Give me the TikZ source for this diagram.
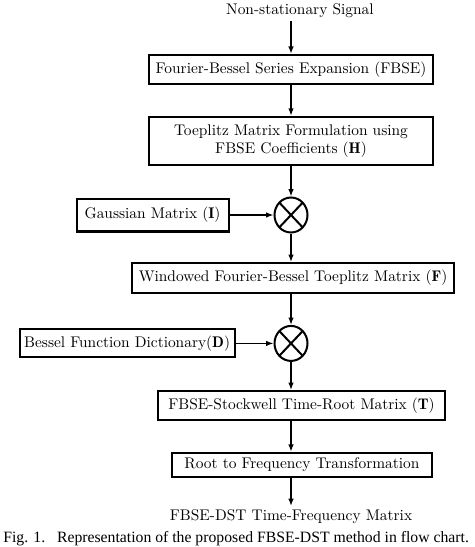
\documentclass[tikz,border=0pt]{standalone}
\usepackage{fontspec}
\newfontfamily\capfont{Liberation Serif}
\usetikzlibrary{matrix,positioning,arrows.meta,shapes.geometric}

\begin{document}
\begin{tikzpicture}[x=0.6486pt, y=-0.6486pt,
every node/.style={inner sep=2pt},
blk/.style={draw, line width=1.3pt, minimum height=18.8pt},
mixer/.style={ellipse, draw, line width=1.3pt, minimum width=21.4pt, minimum height=22.7pt, inner sep=0pt,
    path picture={\draw[line width=1.3pt]
        (path picture bounding box.north west) -- (path picture bounding box.south east)
        (path picture bounding box.north east) -- (path picture bounding box.south west);}},
arr/.style={-{Latex[length=4.8pt,width=3.6pt]}, line width=0.9pt}
]
\useasboundingbox (0,0) rectangle (474,547);

\matrix (c) [matrix of nodes, nodes in empty cells, row sep=20pt, ampersand replacement=\&, anchor=c-4-1.center] at (291,215) {
|[xshift=5.8pt]| Non-stationary Signal \\[1.5pt]
|[blk, minimum width=183.6pt]| Fourier-Bessel Series Expansion (FBSE) \\
|[blk, minimum width=183.6pt, minimum height=31.1pt]| \begin{tabular}{@{}c@{}}Toeplitz Matrix Formulation using\\ FBSE Coefficients ($\mathbf{H}$)\end{tabular} \\
|[mixer]| \\[-1.5pt]
|[blk, minimum width=208.9pt, minimum height=19.5pt, xshift=1.3pt]| Windowed Fourier-Bessel Toeplitz Matrix ($\mathbf{F}$) \\
|[mixer]| \\[-1.8pt]
|[blk, minimum width=186.1pt, xshift=6.8pt]| FBSE-Stockwell Time-Root Matrix ($\mathbf{T}$) \\
|[blk, minimum width=168.6pt, minimum height=15.6pt, xshift=7.1pt]| Root to Frequency Transformation \\[-1.5pt]
FBSE-DST Time-Frequency Matrix \\
};

\node[blk, minimum width=98.6pt, minimum height=21.4pt, left=28.5pt of c-4-1] (gauss) {Gaussian Matrix ($\mathbf{I}$)};
\node[blk, minimum width=139.4pt, minimum height=18.2pt, left=24.6pt of c-6-1] (dict) {Bessel Function Dictionary($\mathbf{D}$)};

\foreach \i/\j in {1-1/2-1, 2-1/3-1, 3-1/4-1, 4-1/5-1,
                   5-1/6-1, 6-1/7-1, 7-1/8-1, 8-1/9-1}
    \draw [arr] (c-\i.south -| c-4-1) -- (c-\j.north -| c-4-1);
\draw [arr] (gauss) -- (c-4-1);
\draw [arr] (dict) -- (c-6-1);

\node[anchor=base west, inner sep=0pt, font=\capfont\fontsize{10.2}{12}\selectfont] (caption) at (3,542.5)
    {Fig. 1.\enspace\ Representation of the proposed FBSE-DST method in flow chart.};

\end{tikzpicture}
\end{document}
